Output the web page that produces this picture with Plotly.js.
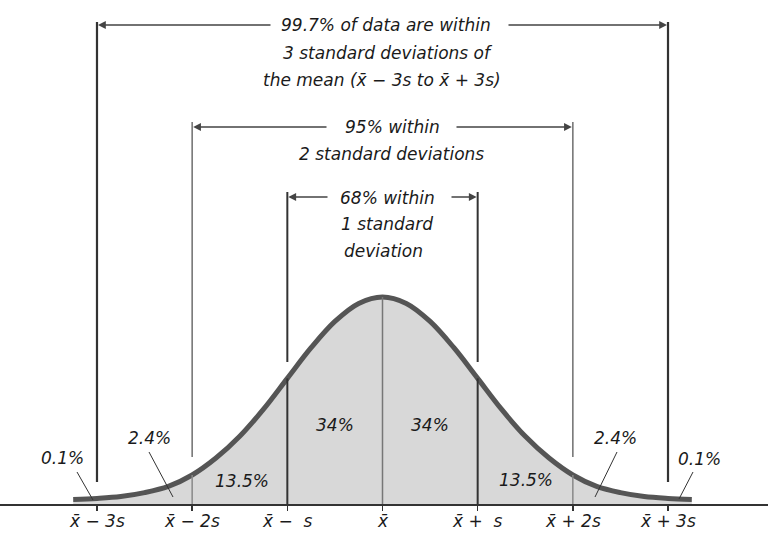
<!DOCTYPE html>
<html>
<head>
<meta charset="utf-8">
<script src="https://cdn.plot.ly/plotly-3.0.1.min.js"></script>
<style>html,body{margin:0;padding:0;background:#fff;}#chart{width:768px;height:536px;}</style>
</head>
<body>
<div id="chart"></div>
<script>
// ---- Data (x in standard deviations, y relative to the peak) ----
const curveX = [-3.25,-3,-2.75,-2.5,-2.25,-2,-1.75,-1.5,-1.25,-1,-0.75,-0.5,-0.25,0,0.25,0.5,0.75,1,1.25,1.5,1.75,2,2.25,2.5,2.75,3,3.25];
const curveY = [0.022,0.027,0.036,0.055,0.085,0.14,0.222,0.327,0.458,0.607,0.755,0.882,0.969,1.0,0.969,0.882,0.755,0.607,0.458,0.327,0.222,0.14,0.085,0.055,0.036,0.027,0.022];
const sigmaPos = [-3,-2,-1,0,1,2,3];
const tickLabels = ["x\u0304\u00a0\u2212\u00a03s","x\u0304\u00a0\u2212\u00a02s","x\u0304\u00a0\u2212\u00a0\u00a0s","x\u0304","x\u0304\u00a0+\u00a0\u00a0s","x\u0304\u00a0+\u00a02s","x\u0304\u00a0+\u00a03s"];
const regionLabels = ["0.1%","2.4%","13.5%","34%","34%","13.5%","2.4%","0.1%"];
const spanLabels = [
  ["99.7% of data are within","3 standard deviations of","the mean (x\u0304 \u2212 3s to x\u0304 + 3s)"],
  ["95% within","2 standard deviations"],
  ["68% within","1 standard","deviation"]
];
const spanSigmas = [3,2,1];

// ---- pixel helpers (layout only) ----
const PXS = 95.17, X0 = 382.5, BASE = 504, PEAK = 207;
const fx = px => (px - X0) / PXS;
const fy = py => (BASE - py) / PEAK;
const FONT = {family: "DejaVu Sans, Noto Sans, sans-serif", size: 17, color: "#1a1a1a", style: "italic"};

const trace = {
  x: curveX, y: curveY, type: "scatter", mode: "lines",
  line: {color: "#555", width: 5, shape: "spline", smoothing: 1},
  fill: "tozeroy", fillcolor: "#d8d8d8", hoverinfo: "skip"
};

const shapes = [];
const annotations = [];
// vertical lines below the curve
const belowStyle = {"-2":["#888",1.5],"-1":["#333",2],"0":["#777",1.5],"1":["#333",2],"2":["#888",1.5]};
sigmaPos.forEach(s => {
  const k = String(s);
  if (belowStyle[k]) {
    const h = curveY[curveX.indexOf(s)];
    shapes.push({type:"line", xref:"x", yref:"y", x0:s, x1:s, y0:0, y1:h, line:{color:belowStyle[k][0], width:belowStyle[k][1]}});
  }
});
// vertical lines above the curve and span arrows
const spanGeom = {3:{top:22,bot:482,arrowY:25,gapL:272,gapR:507,col:"#333",w:2.2,textY:[25,53,80],textX:[386,388,382]},
                  2:{top:122,bot:457,arrowY:127,gapL:328,gapR:455,col:"#777",w:1.6,textY:[127,154],textX:[392,391]},
                  1:{top:192,bot:362,arrowY:197,gapL:329,gapR:450,col:"#333",w:2,textY:[198,224,251],textX:[387,387,383]}};
spanSigmas.forEach((s,i) => {
  const g = spanGeom[s];
  [-s, s].forEach(xv => {
    shapes.push({type:"line", xref:"x", yref:"y", x0:xv, x1:xv, y0:fy(g.bot), y1:fy(g.top), line:{color:g.col, width:g.w}});
  });
  const ay = fy(g.arrowY);
  annotations.push({x:-s, y:ay, ax:fx(g.gapL), ay:ay, axref:"x", ayref:"y", xref:"x", yref:"y", text:"", showarrow:true, arrowhead:2, arrowsize:1.2, arrowwidth:1.3, arrowcolor:"#444", standoff:1});
  annotations.push({x:s, y:ay, ax:fx(g.gapR), ay:ay, axref:"x", ayref:"y", xref:"x", yref:"y", text:"", showarrow:true, arrowhead:2, arrowsize:1.2, arrowwidth:1.3, arrowcolor:"#444", standoff:1});
  spanLabels[i].forEach((t,j) => {
    annotations.push({x:fx(g.textX[j]), y:fy(g.textY[j]), xref:"x", yref:"y", text:t, showarrow:false, font:FONT, xanchor:"center", yanchor:"middle"});
  });
});
// region percentage labels
const regionPos = [[62,458],[149,438],[242,481],[335,425],[430,425],[526,480],[615,438],[699,459]];
regionLabels.forEach((t,i) => {
  annotations.push({x:fx(regionPos[i][0]), y:fy(regionPos[i][1]), xref:"x", yref:"y", text:t, showarrow:false, font:FONT, xanchor:"center", yanchor:"middle"});
});
// tick labels under the baseline (paper-referenced vertically so they show below the plot area)
sigmaPos.forEach((s,i) => {
  annotations.push({x:s, y:(BASE-521)/BASE, xref:"x", yref:"paper", text:tickLabels[i], showarrow:false, font:FONT, xanchor:"center", yanchor:"middle"});
});
// leader lines
const leaders = [[77,472,93,500],[149,452,173,497],[617,452,595,497],[693,472,679,499]];
leaders.forEach(l => shapes.push({type:"line", xref:"x", yref:"y", x0:fx(l[0]), y0:fy(l[1]), x1:fx(l[2]), y1:fy(l[3]), line:{color:"#333", width:1}}));

const layout = {
  width: 768, height: 536,
  margin: {l:0, r:0, t:0, b:32},
  paper_bgcolor: "#fff", plot_bgcolor: "#fff",
  showlegend: false,
  xaxis: {range:[fx(0), fx(768)], showgrid:false, zeroline:false, showline:true, linecolor:"#333", linewidth:1.5,
          ticks:"outside", ticklen:5, tickwidth:1.5, tickcolor:"#333",
          tickvals: sigmaPos, showticklabels:false, fixedrange:true},
  yaxis: {range:[0, BASE/PEAK], visible:false, fixedrange:true},
  shapes: shapes, annotations: annotations
};
Plotly.newPlot("chart", [trace], layout, {displayModeBar:false, staticPlot:true});
</script>
</body>
</html>
